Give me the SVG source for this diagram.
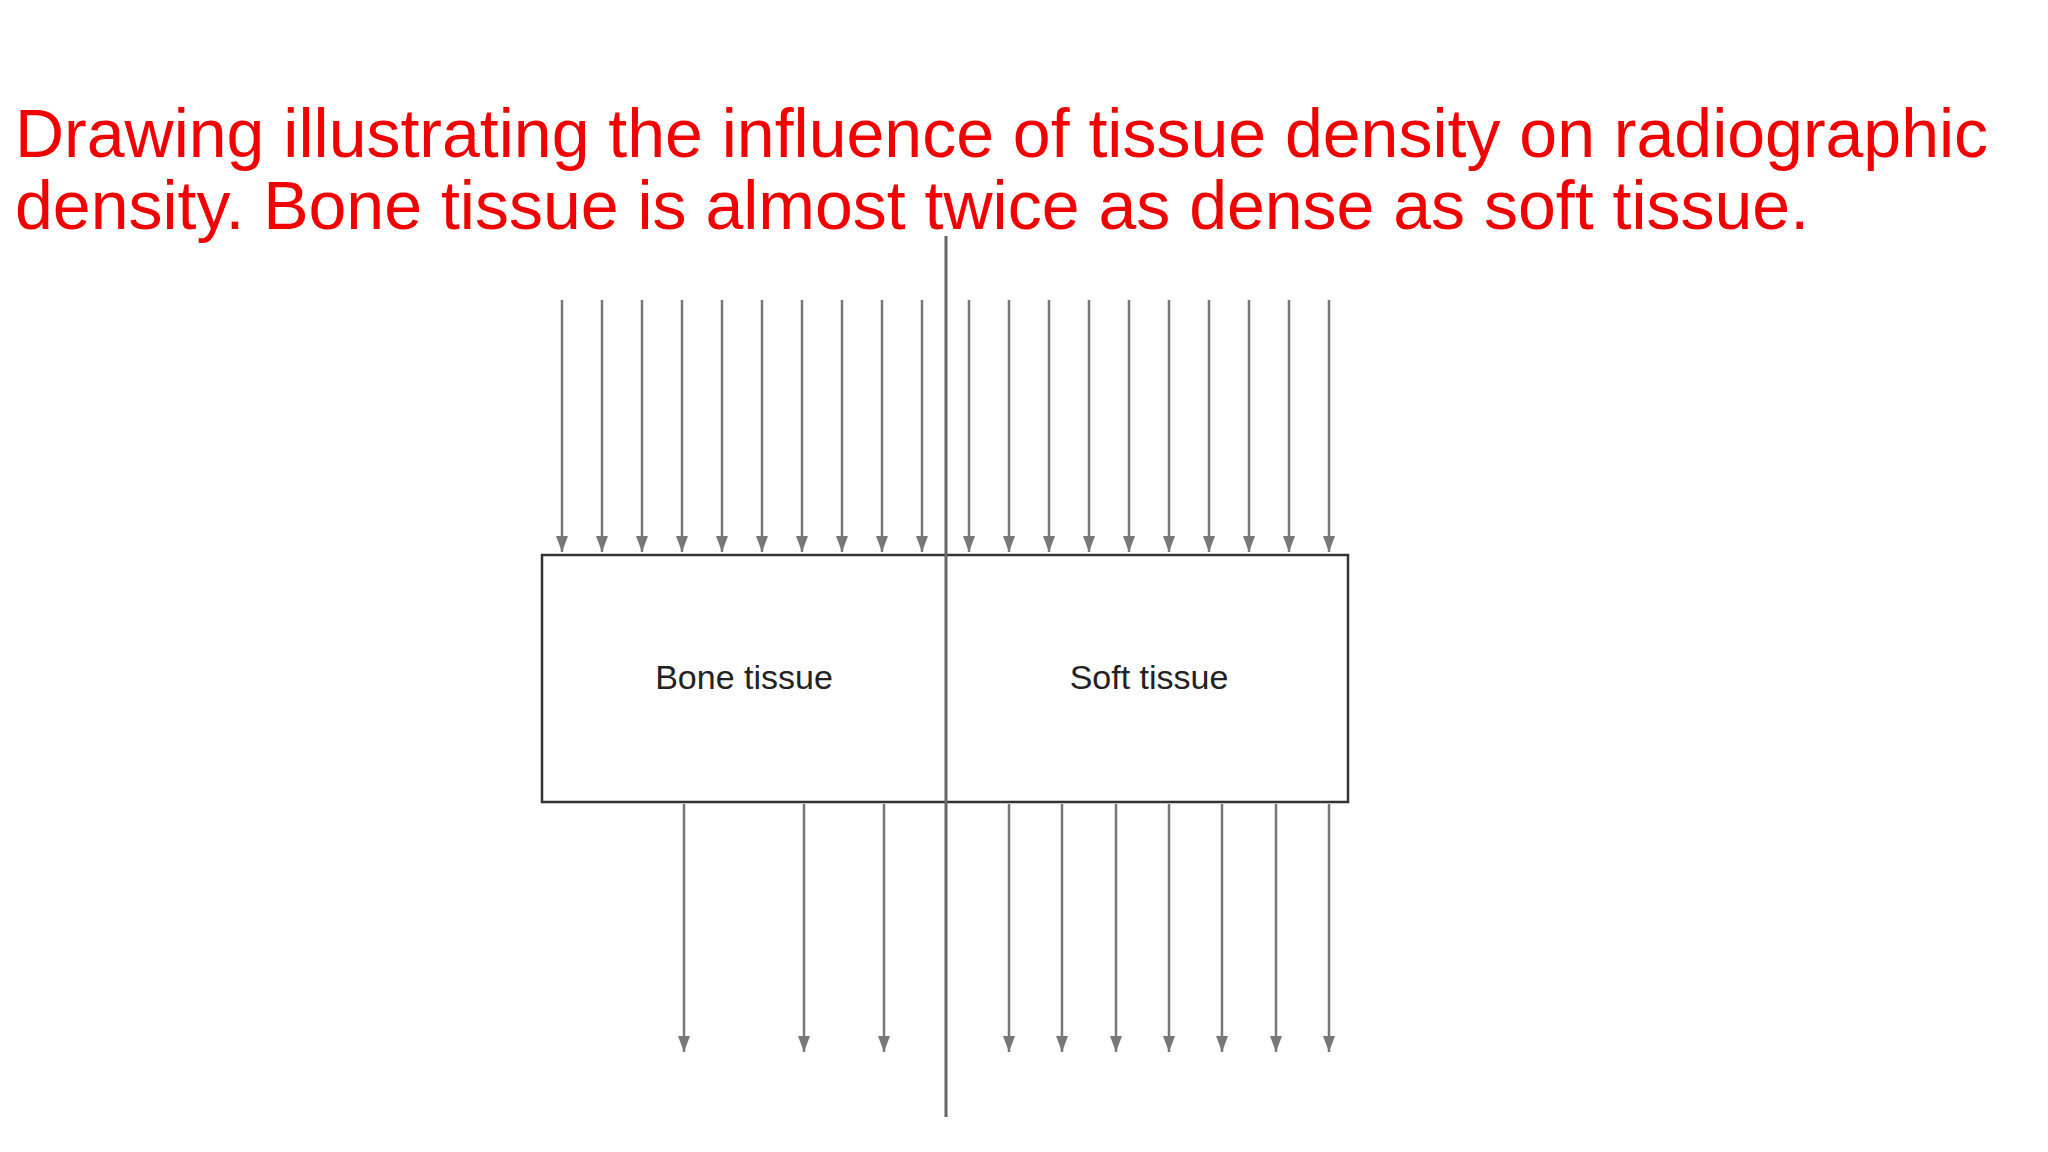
<svg xmlns="http://www.w3.org/2000/svg" width="2048" height="1152" viewBox="0 0 2048 1152">
<style>
.t{font-family:"Liberation Sans",Arial,sans-serif;fill:#f00000;font-size:68px}
.l{font-family:"Liberation Sans",Arial,sans-serif;fill:#222;font-size:34px;text-anchor:middle}
.a line{stroke:#777;stroke-width:2.5;marker-end:url(#m)}
</style>
<defs><marker id="m" viewBox="0 0 12 16" refX="6" refY="16" markerWidth="12" markerHeight="16" markerUnits="userSpaceOnUse"><path d="M0 0 L12 0 L6 16Z" fill="#777"/></marker></defs>
<rect width="2048" height="1152" fill="#fff"/>
<g id="title"><text class="t" x="15" y="157">Drawing illustrating the influence of tissue density on radiographic</text><text class="t" x="15" y="229">density. Bone tissue is almost twice as dense as soft tissue.</text></g>
<g id="box"><rect x="542" y="555" width="806" height="247" fill="none" stroke="#333" stroke-width="2.5"/></g>
<g id="bone"><text class="l" x="744" y="689">Bone tissue</text></g>
<g id="soft"><text class="l" x="1149" y="689">Soft tissue</text></g>
<g id="connectors">
<line x1="946" y1="236" x2="946" y2="1117" stroke="#666" stroke-width="3"/>
<g class="a">
<line x1="562" y1="300" x2="562" y2="552"/><line x1="602" y1="300" x2="602" y2="552"/><line x1="642" y1="300" x2="642" y2="552"/><line x1="682" y1="300" x2="682" y2="552"/><line x1="722" y1="300" x2="722" y2="552"/><line x1="762" y1="300" x2="762" y2="552"/><line x1="802" y1="300" x2="802" y2="552"/><line x1="842" y1="300" x2="842" y2="552"/><line x1="882" y1="300" x2="882" y2="552"/><line x1="922" y1="300" x2="922" y2="552"/>
<line x1="969" y1="300" x2="969" y2="552"/><line x1="1009" y1="300" x2="1009" y2="552"/><line x1="1049" y1="300" x2="1049" y2="552"/><line x1="1089" y1="300" x2="1089" y2="552"/><line x1="1129" y1="300" x2="1129" y2="552"/><line x1="1169" y1="300" x2="1169" y2="552"/><line x1="1209" y1="300" x2="1209" y2="552"/><line x1="1249" y1="300" x2="1249" y2="552"/><line x1="1289" y1="300" x2="1289" y2="552"/><line x1="1329" y1="300" x2="1329" y2="552"/>
<line x1="684" y1="804" x2="684" y2="1052"/><line x1="804" y1="804" x2="804" y2="1052"/><line x1="884" y1="804" x2="884" y2="1052"/>
<line x1="1009" y1="804" x2="1009" y2="1052"/><line x1="1062" y1="804" x2="1062" y2="1052"/><line x1="1116" y1="804" x2="1116" y2="1052"/><line x1="1169" y1="804" x2="1169" y2="1052"/><line x1="1222" y1="804" x2="1222" y2="1052"/><line x1="1276" y1="804" x2="1276" y2="1052"/><line x1="1329" y1="804" x2="1329" y2="1052"/>
</g></g>
</svg>
